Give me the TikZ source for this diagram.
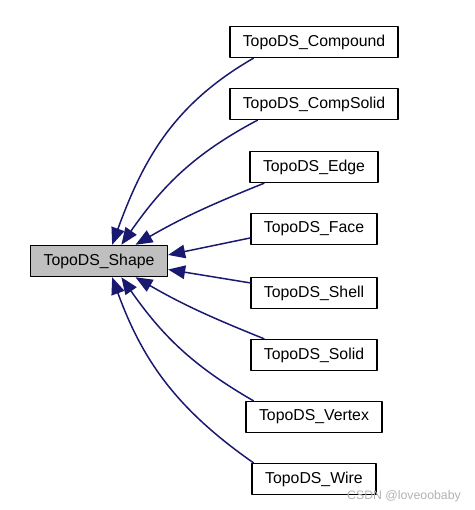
\documentclass[tikz,border=0pt]{standalone}
\usepackage{fontspec}
\setmainfont{Liberation Sans}
\usetikzlibrary{arrows.meta}
\definecolor{navy}{HTML}{191970}
\definecolor{basegray}{HTML}{BFBFBF}
\tikzset{
  every picture/.style={line join=round, line cap=round},
  cls/.style={draw=black, line width=0.85pt, fill=white, inner xsep=0.26cm,
    minimum height=0.62cm, font=\fontsize{9}{10}\selectfont},
  base/.style={cls, fill=basegray},
  inherit/.style={navy, line width=0.85pt, -{Triangle[length=0.34cm,width=0.27cm]}},
}

\begin{document}
\begin{tikzpicture}[x=0.02cm,y=-0.02cm]
\useasboundingbox (0,0) rectangle (474,510);
% base class
\node[base] (shape) at (99,261) {TopoDS\_Shape};
% derived classes
\node[cls] (compound) at (314,42) {TopoDS\_Compound};
\node[cls] (compsolid) at (314,104) {TopoDS\_CompSolid};
\node[cls] (edge) at (314,167) {TopoDS\_Edge};
\node[cls] (face) at (314,229) {TopoDS\_Face};
\node[cls] (shell) at (314,293) {TopoDS\_Shell};
\node[cls] (solid) at (314,355) {TopoDS\_Solid};
\node[cls] (vertex) at (314,417) {TopoDS\_Vertex};
\node[cls] (wire) at (314,479) {TopoDS\_Wire};
% inheritance
\draw[inherit] (compound.195) to[out=210,in=70] (shape.51);
\draw[inherit] (compsolid.196) to[out=208,in=55] (shape.36);
\draw[inherit] (edge.198) to[out=202,in=30] (shape.24);
\draw[inherit] (face.188) -- (shape.5);
\draw[inherit] (shell.171) -- (shape.-7);
\draw[inherit] (solid.162) to[out=158,in=-30] (shape.-24);
\draw[inherit] (vertex.165) to[out=150,in=-55] (shape.-36);
\draw[inherit] (wire.165) to[out=145,in=-70] (shape.-51);
\node[gray!60, font=\fontsize{7}{8}\selectfont] (mark) at (404,496) {CSDN @loveoobaby};
\end{tikzpicture}
\end{document}
